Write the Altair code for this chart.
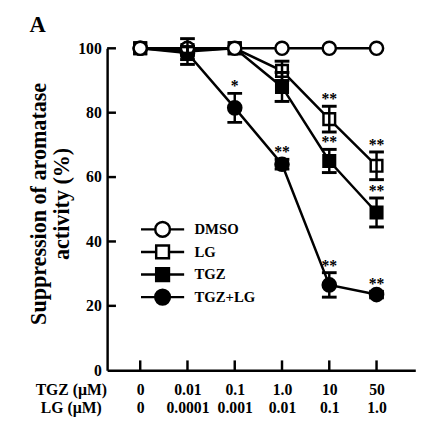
import altair as alt
import pandas as pd

# ---- data ----
tgz_labels = ["0", "0.01", "0.1", "1.0", "10", "50"]
lg_labels = ["0", "0.0001", "0.001", "0.01", "0.1", "1.0"]
series = ["DMSO", "LG", "TGZ", "TGZ+LG"]

dmso = [100, 100, 100, 100, 100, 100]
dmso_err = [0, 0, 0, 0, 0, 0]
dmso_sig = ["", "", "", "", "", ""]

lg = [100, 99.5, 100, 93, 78, 63.5]
lg_err = [0, 1, 0, 3, 4, 4.3]
lg_sig = ["", "", "", "", "**", "**"]

tgz = [100, 99, 100, 88, 65, 49]
tgz_err = [0, 4, 0, 4.5, 3.6, 4.5]
tgz_sig = ["", "", "", "", "**", "**"]

tgzlg = [100, 98.5, 81.5, 64, 26.5, 23.5]
tgzlg_err = [0, 2, 4.5, 1.5, 3.8, 1]
tgzlg_sig = ["", "", "*", "**", "**", "**"]

y_ticks = [0, 20, 40, 60, 80, 100]
panel_label = ["A"]

# ---- build table ----
vals = {"DMSO": (dmso, dmso_err, dmso_sig), "LG": (lg, lg_err, lg_sig),
        "TGZ": (tgz, tgz_err, tgz_sig), "TGZ+LG": (tgzlg, tgzlg_err, tgzlg_sig)}
rows = []
for s in series:
    v, e, g = vals[s]
    for i in range(len(tgz_labels)):
        rows.append({"series": s, "idx": i, "val": v[i], "err": e[i],
                     "lo": v[i] - e[i], "hi": v[i] + e[i], "sig": g[i]})
df = pd.DataFrame(rows)
err_df = df[df["err"] > 0]
sig_df = df[df["sig"] != ""]
xtick_df = pd.DataFrame({"idx": list(range(len(tgz_labels)))})
ytick_df = pd.DataFrame({"v": y_ticks[1:]})
legend_df = pd.DataFrame({"series": series, "idx": [-100] * 4, "val": [-100] * 4})
label_df = pd.DataFrame({"t": panel_label})

FONT = "Liberation Serif"
W, H = 314, 328

xscale = alt.Scale(domain=[-0.7, 5.82], nice=False, zero=False)
yscale = alt.Scale(domain=[0, 100], nice=False)

def arr(lst):
    return "[" + ",".join("'" + s + "'" for s in lst) + "]"

label_expr = "[" + arr(tgz_labels) + "[datum.value]," + arr(lg_labels) + "[datum.value]]"

x_enc = alt.X("idx:Q", scale=xscale, axis=alt.Axis(
    values=list(range(len(tgz_labels))), ticks=False, grid=False,
    domainColor="black", domainWidth=2.5,
    labelExpr=label_expr, labelFont=FONT, labelFontSize=16, labelFontWeight="bold",
    labelColor="black", labelPadding=12, labelBaseline="top", labelLineHeight=18,
    labelFlush=False, labelOverlap=False,
    title=["TGZ (µM)", "LG (µM)"], titleFont=FONT, titleFontSize=16, titleFontWeight="bold",
    titleColor="black", titleX=-37, titleY=12, titleAlign="center", titleBaseline="top",
    titleLineHeight=18, titleAngle=0))

y_enc = alt.Y("val:Q", scale=yscale, axis=alt.Axis(
    values=y_ticks, ticks=False, grid=False, domainColor="black", domainWidth=2.5,
    labelFont=FONT, labelFontSize=16, labelFontWeight="bold", labelColor="black",
    labelPadding=6,
    title=["Suppression of aromatase", "activity (%)"], titleFont=FONT, titleFontSize=22.5,
    titleFontWeight="bold", titleColor="black", titleX=-70, titleY=158,
    titleAlign="center", titleBaseline="middle", titleLineHeight=24, titleAngle=-90))

base = alt.Chart(df)

lines = base.mark_line(color="black", strokeWidth=2.5).encode(x=x_enc, y=y_enc, detail="series:N")

# legend-only layer (clipped away from plot), symbols drawn as line+marker
circ = "M-3.14,0H-1.07M1.07,0H3.14M-1.07,0A1.07,1.07,0,1,1,1.07,0A1.07,1.07,0,1,1,-1.07,0Z"
sq = "M-3.14,0H-0.93M0.93,0H3.14M-0.93,-0.93H0.93V0.93H-0.93Z"
leg = alt.Legend(title=None, orient="none", legendX=48, legendY=176, symbolSize=196,
                 symbolStrokeWidth=2.5, labelFont=FONT,
                 labelFontSize=15, labelFontWeight="bold", labelColor="black",
                 labelOffset=24, rowPadding=-2, padding=0, symbolOpacity=1)
legend_layer = alt.Chart(legend_df).mark_point(
    filled=False, size=196, strokeWidth=2.5, clip=True, opacity=1).encode(
    x=alt.X("idx:Q", scale=xscale),
    y=alt.Y("val:Q", scale=yscale),
    shape=alt.Shape("series:N", scale=alt.Scale(domain=series, range=[circ, sq, sq, circ]), legend=leg),
    fill=alt.Fill("series:N", scale=alt.Scale(domain=series, range=["white", "white", "black", "black"]), legend=leg),
    stroke=alt.Stroke("series:N", scale=alt.Scale(domain=series, range=["black", "black", "black", "black"]), legend=leg),
)

style = {"DMSO": ("circle", "white", 180), "LG": ("square", "white", 140),
         "TGZ": ("square", "black", 140), "TGZ+LG": ("circle", "black", 180)}
point_layers = []
for s in ["LG", "TGZ", "TGZ+LG", "DMSO"]:
    shp, fil, sz = style[s]
    point_layers.append(
        alt.Chart(df[df["series"] == s]).mark_point(
            shape=shp, filled=True, fill=fil, stroke="black", strokeWidth=2.5,
            size=sz, opacity=1).encode(x="idx:Q", y="val:Q"))

err_rules = alt.Chart(err_df).mark_rule(color="black", strokeWidth=2.5).encode(
    x="idx:Q", y="lo:Q", y2="hi:Q")
cap_lo = alt.Chart(err_df).mark_tick(color="black", orient="horizontal", size=15, thickness=3, opacity=1).encode(
    x="idx:Q", y="lo:Q")
cap_hi = alt.Chart(err_df).mark_tick(color="black", orient="horizontal", size=15, thickness=3, opacity=1).encode(
    x="idx:Q", y="hi:Q")

stars = alt.Chart(sig_df).mark_text(font=FONT, fontSize=16, fontWeight="bold", color="black",
                                    baseline="alphabetic", dy=-2).encode(
    x="idx:Q", y="hi:Q", text="sig:N")

xticks = alt.Chart(xtick_df).mark_rule(color="black", strokeWidth=2.5).encode(
    x="idx:Q", y=alt.value(H), y2=alt.value(H - 10))
yticks = alt.Chart(ytick_df).mark_rule(color="black", strokeWidth=2.5).encode(
    y="v:Q", x=alt.value(0), x2=alt.value(9))

panel = alt.Chart(label_df).mark_text(font=FONT, fontSize=23, fontWeight="bold", color="black",
                                      align="left", baseline="alphabetic").encode(
    x=alt.value(-79), y=alt.value(-17), text="t:N")

chart = alt.layer(lines, legend_layer, *point_layers, err_rules, cap_lo, cap_hi, stars,
                  xticks, yticks, panel).properties(
    width=W, height=H,
    autosize=alt.AutoSizeParams(type="none"),
    padding={"left": 101, "top": 37, "right": 16, "bottom": 66},
    background="white",
).configure_view(stroke=None)

chart.save("out.html", embed_options={"renderer": "svg", "actions": False})
